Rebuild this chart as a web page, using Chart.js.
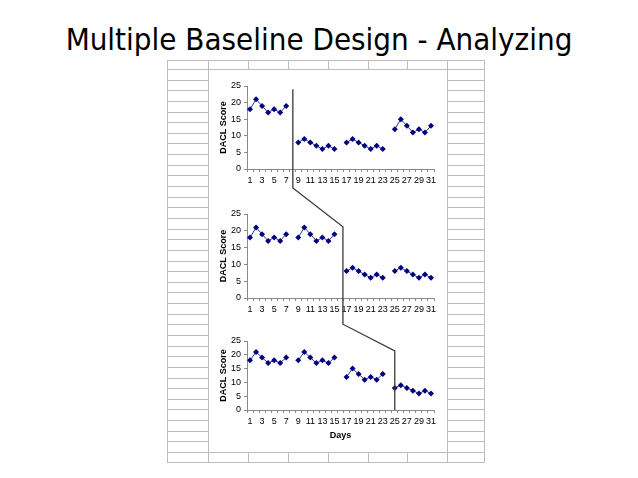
<!DOCTYPE html>
<html>
<head>
<meta charset="utf-8">
<script src="https://cdn.jsdelivr.net/npm/chart.js@4/dist/chart.umd.min.js"></script>
<style>
  html, body { margin: 0; padding: 0; background: #fff; }
  body { width: 638px; height: 478px; position: relative; overflow: hidden; }
  #title {
    position: absolute; left: 0; top: 21px; width: 638px; text-align: center;
    font-family: 'DejaVu Sans Condensed', 'DejaVu Sans', sans-serif; font-size: 31px; color: #000;
    white-space: nowrap;
  }
  canvas { position: absolute; }
</style>
</head>
<body>
<div id="title">Multiple Baseline Design - Analyzing</div>
<canvas id="sheet" width="638" height="478" style="left:0;top:0"></canvas>
<canvas id="c1" width="239" height="120" style="left:208px;top:70px"></canvas>
<canvas id="c2" width="239" height="121" style="left:208px;top:198px"></canvas>
<canvas id="c3" width="239" height="120" style="left:208px;top:325px"></canvas>
<canvas id="overlay" width="638" height="478" style="left:0;top:0;pointer-events:none"></canvas>
<script>
// days 1..31, gaps (null) on days 8, 16 and 24
const days = ['1','2','3','4','5','6','7','8','9','10','11','12','13','14','15','16',
              '17','18','19','20','21','22','23','24','25','26','27','28','29','30','31'];
const scoresA = [18,21,19,17,18,17,19,null,8,9,8,7,6,7,6,null,8,9,8,7,6,7,6,null,12,15,13,11,12,11,13];
const scoresB = [18,21,19,17,18,17,19,null,18,21,19,17,18,17,19,null,8,9,8,7,6,7,6,null,8,9,8,7,6,7,6];
const scoresC = [18,21,19,17,18,17,19,null,18,21,19,17,18,17,19,null,12,15,13,11,12,11,13,null,8,9,8,7,6,7,6];
const yTicks = [0, 5, 10, 15, 20, 25];
// phase change line: [chart, day, score]
const phaseLine = [[0, 8.1, 24], [0, 8.1, -5.7], [1, 16.4, 21.2], [1, 16.4, -7.8], [2, 25, 21.4], [2, 25, 0]];

const axisGrey = '#8a8a8a';
const tickFont = { family: 'Liberation Sans, Arial, sans-serif', size: 9 };

function drawSheet() {
    const ctx = document.getElementById('sheet').getContext('2d');
    ctx.strokeStyle = '#bcbcbc';
    ctx.lineWidth = 1;
    const L = 167, R = 484, T = 60, B = 462;
    const cols = [208, 248, 288, 328, 368, 407, 447];
    const line = (x1, y1, x2, y2) => {
        ctx.beginPath();
        ctx.moveTo(x1 + 0.5, y1 + 0.5);
        ctx.lineTo(x2 + 0.5, y2 + 0.5);
        ctx.stroke();
    };
    ctx.strokeRect(L + 0.5, T + 0.5, R - L, B - T);
    // top and bottom rows
    line(L, 69, R, 69);
    line(L, 452, R, 452);
    cols.forEach(x => { line(x, T, x, 69); line(x, 452, x, B); });
    // side columns
    line(208, 69, 208, 452);
    line(447, 69, 447, 452);
    const rows = 36, step = (452 - 69) / rows;
    for (let i = 1; i < rows; i++) {
        const y = Math.round(69 + i * step);
        line(L, y, 208, y);
        line(447, y, R, y);
    }
}

function makeChart(id, scores, axisHeight, showDays) {
    return new Chart(document.getElementById(id), {
        type: 'line',
        data: {
            labels: days,
            datasets: [{
                data: scores,
                borderColor: '#2b3594',
                borderWidth: 1,
                pointStyle: 'rectRot',
                pointRadius: 3,
                pointBackgroundColor: '#000080',
                pointBorderColor: '#000080',
                pointBorderWidth: 0,
                spanGaps: false,
                tension: 0
            }]
        },
        options: {
            responsive: false,
            animation: false,
            layout: { padding: { top: 16, right: 13, left: 0, bottom: 0 } },
            plugins: { legend: { display: false }, tooltip: { enabled: false } },
            scales: {
                x: {
                    offset: true,
                    grid: { drawOnChartArea: false, offset: true, tickLength: 3, color: axisGrey },
                    border: { color: axisGrey },
                    ticks: {
                        autoSkip: false, maxRotation: 0, padding: 3, color: '#000', font: tickFont,
                        callback: (v, i) => (i % 2 === 0 ? days[i] : '')
                    },
                    title: {
                        display: showDays, text: 'Days', color: '#000',
                        font: { family: 'Liberation Sans, Arial, sans-serif', size: 9, weight: 'bold' },
                        padding: { top: 0, bottom: 3.6 }
                    },
                    afterFit: s => { s.height = axisHeight; }
                },
                y: {
                    min: 0, max: 25,
                    afterBuildTicks: s => { s.ticks = yTicks.map(v => ({ value: v })); },
                    grid: { drawOnChartArea: false, tickLength: 3, color: axisGrey },
                    border: { color: axisGrey },
                    ticks: { padding: 3, color: '#000', font: tickFont },
                    title: {
                        display: true, text: 'DACL Score', color: '#000',
                        font: { family: 'Liberation Sans, Arial, sans-serif', size: 9, weight: 'bold' },
                        padding: { top: 10, bottom: 0 }
                    },
                    afterFit: s => { s.width = 39; }
                }
            }
        }
    });
}

drawSheet();
const charts = [
    makeChart('c1', scoresA, 21, false),
    makeChart('c2', scoresB, 21, false),
    makeChart('c3', scoresC, 35, true)
];

// phase change line across the three charts
function drawPhaseLine() {
    const ctx = document.getElementById('overlay').getContext('2d');
    ctx.strokeStyle = '#3a3a3a';
    ctx.lineWidth = 1.3;
    ctx.beginPath();
    phaseLine.forEach(([ci, day, score], i) => {
        const ch = charts[ci];
        const box = ch.canvas;
        const x = box.offsetLeft + ch.scales.x.getPixelForValue(day - 1);
        const y = box.offsetTop + ch.scales.y.getPixelForValue(score);
        if (i === 0) ctx.moveTo(x, y); else ctx.lineTo(x, y);
    });
    ctx.stroke();
}
drawPhaseLine();
</script>
</body>
</html>
